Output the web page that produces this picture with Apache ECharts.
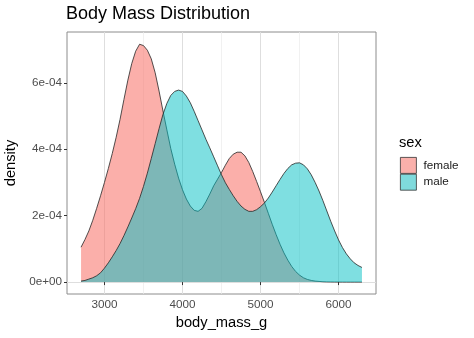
<!DOCTYPE html>
<html><head><meta charset="utf-8">
<script src="https://cdn.jsdelivr.net/npm/echarts@6/dist/echarts.min.js"></script>
<style>html,body{margin:0;padding:0;background:#fff}#c{width:474px;height:338px}</style>
</head><body><div id="c"></div>
<script>
const bodyMass = [2700,2750,2800,2850,2900,2950,3000,3050,3100,3150,3200,3250,3300,3350,3400,3450,3500,3550,3600,3650,3700,3750,3800,3850,3900,3950,4000,4050,4100,4150,4200,4250,4300,4350,4400,4450,4500,4550,4600,4650,4700,4750,4800,4850,4900,4950,5000,5050,5100,5150,5200,5250,5300,5350,5400,5450,5500,5550,5600,5650,5700,5750,5800,5850,5900,5950,6000,6050,6100,6150,6200,6250,6300];
// density values, in units of 1e-4
const female = [1.05,1.28,1.54,1.86,2.22,2.60,3.00,3.42,3.87,4.36,4.90,5.50,6.08,6.58,6.95,7.16,7.12,6.98,6.72,6.30,5.75,5.15,4.58,4.02,3.55,3.13,2.78,2.50,2.29,2.16,2.13,2.22,2.42,2.65,2.90,3.10,3.30,3.52,3.72,3.85,3.91,3.91,3.80,3.60,3.33,3.03,2.72,2.40,2.07,1.74,1.43,1.14,0.88,0.66,0.47,0.32,0.21,0.13,0.08,0.05,0.03,0.02,0.01,0.006,0.004,0.002,0.001,0.0005,0.0002,0.0001,0,0,0];
const male = [0.03,0.05,0.09,0.13,0.19,0.28,0.42,0.58,0.76,0.95,1.16,1.40,1.66,1.93,2.21,2.52,2.88,3.28,3.72,4.17,4.62,5.05,5.38,5.62,5.74,5.78,5.74,5.60,5.40,5.14,4.86,4.58,4.30,4.04,3.77,3.50,3.23,2.99,2.79,2.60,2.43,2.29,2.19,2.13,2.13,2.18,2.27,2.38,2.53,2.71,2.90,3.09,3.27,3.42,3.53,3.58,3.59,3.53,3.41,3.23,3.00,2.74,2.45,2.14,1.83,1.54,1.27,1.04,0.85,0.70,0.58,0.50,0.44];
const DENSITY_UNIT = 1e-4;
const xTicks = [3000,4000,5000,6000];
const xTickLabels = ['3000','4000','5000','6000'];
const xMinor = [3500,4500,5500];
const yTicks = [0,2e-4,4e-4,6e-4];
const yTickLabels = ['0e+00','2e-04','4e-04','6e-04'];
const yMinor = [1e-4,3e-4,5e-4,7e-4];
const seriesNames = ['female','male'];
const FONT = "'Liberation Sans', Arial, sans-serif";

const chart = echarts.init(document.getElementById('c'), null, {renderer:'canvas'});
const pairs = arr => bodyMass.map((g,i)=>[g, arr[i]*DENSITY_UNIT]);
const gridMajor = {color:'#dedede', width:1, type:'solid'};
const gridMinor = {color:'#ebebeb', width:0.7, type:'solid'};
const mk = (key, vals, style) => vals.map(v => ({[key]: v, lineStyle: style}));
const nearest = (ticks, labels, v) => {let b=0;for(let i=0;i<ticks.length;i++){if(Math.abs(ticks[i]-v)<Math.abs(ticks[b]-v))b=i;}return labels[b];};

chart.setOption({
  animation:false,
  backgroundColor:'#fff',
  title:[
    {text:'Body Mass Distribution', left:66, top:5, padding:0,
     textStyle:{fontFamily:FONT, fontSize:18, fontWeight:'normal', color:'#000'}},
    {text:'sex', left:399, top:135, padding:0,
     textStyle:{fontFamily:FONT, fontSize:14.7, fontWeight:'normal', color:'#000'}}
  ],
  legend:{
    orient:'vertical', left:400, top:157, padding:0, itemGap:0,
    itemWidth:16, itemHeight:16, icon:'rect',
    textStyle:{fontFamily:FONT, fontSize:11.7, color:'#1a1a1a', padding:[0,0,0,2]},
    data:[
      {name:seriesNames[0], itemStyle:{color:'#FAB0AB', borderColor:'#333', borderWidth:0.8, opacity:1}},
      {name:seriesNames[1], itemStyle:{color:'#7FDADC', borderColor:'#333', borderWidth:0.8, opacity:1}}
    ]
  },
  grid:{left:67, top:32, width:309, height:262, show:true, borderColor:'#8c8c8c', borderWidth:1,
        backgroundColor:'transparent', containLabel:false, outerBoundsMode:'none'},
  xAxis:{
    type:'value', min:2520, max:6480,
    name:'body_mass_g', nameLocation:'middle', nameGap:20,
    nameTextStyle:{fontFamily:FONT, fontSize:14.7, color:'#000'},
    axisLine:{show:false},
    axisTick:{show:true, customValues:xTicks, length:3, lineStyle:{color:'#333', width:1}},
    axisLabel:{show:true, customValues:xTicks, fontFamily:FONT, fontSize:11.7, color:'#4d4d4d', margin:5,
      formatter:(v)=>nearest(xTicks, xTickLabels, v)},
    splitLine:{show:false}
  },
  yAxis:{
    type:'value', min:-0.3585e-4, max:7.5285e-4,
    name:'density', nameLocation:'middle', nameRotate:90, nameGap:46,
    nameTextStyle:{fontFamily:FONT, fontSize:14.7, color:'#000'},
    axisLine:{show:false},
    axisTick:{show:true, customValues:yTicks, length:3, lineStyle:{color:'#333', width:1}},
    axisLabel:{show:true, customValues:yTicks, fontFamily:FONT, fontSize:11.7, color:'#4d4d4d', margin:5,
      formatter:(v)=>nearest(yTicks, yTickLabels, v)},
    splitLine:{show:false}
  },
  series:[
    {type:'line', name:'grid', data:[], silent:true, z:0,
     markLine:{z:0, silent:true, symbol:['none','none'], label:{show:false}, animation:false,
       data:[].concat(mk('xAxis', xMinor, gridMinor), mk('yAxis', yMinor, gridMinor), mk('xAxis', xTicks, gridMajor), mk('yAxis', yTicks, gridMajor))}},
    {type:'line', name:seriesNames[0], data:pairs(female), smooth:false, showSymbol:false, symbol:'none', z:2,
     lineStyle:{color:'#262626', width:0.8},
     itemStyle:{color:'#F8766D'},
     areaStyle:{color:'#F8766D', opacity:0.58, origin:0}},
    {type:'line', name:seriesNames[1], data:pairs(male), smooth:false, showSymbol:false, symbol:'none', z:3,
     lineStyle:{color:'#262626', width:0.8},
     itemStyle:{color:'#00BFC4'},
     areaStyle:{color:'#00BFC4', opacity:0.5, origin:0}}
  ]
});
</script></body></html>
